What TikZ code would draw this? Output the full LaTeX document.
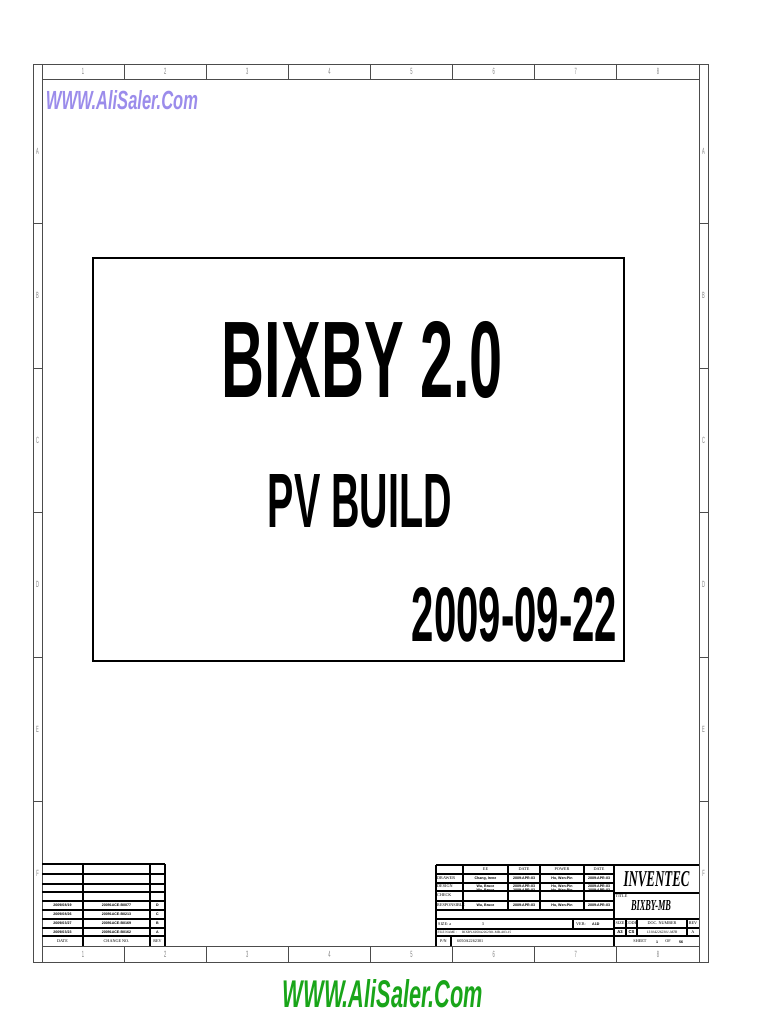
\documentclass[tikz,border=0pt]{standalone}
\usepackage{fontspec}
\setmainfont{Liberation Serif}
\newfontfamily\sansf{Liberation Sans}
\usepackage{graphicx}
\definecolor{framec}{gray}{0.3}
\definecolor{labc}{gray}{0.5}
\definecolor{wmpurple}{RGB}{155,140,235}
\definecolor{wmgreen}{RGB}{25,165,25}
\newcommand\fitbox[3]{\resizebox{#1pt}{#2pt}{#3}}
\newcommand\bordl[1]{\scalebox{0.45}[1]{\sansf\fontsize{9}{9}\selectfont #1}}
\newcommand\tbsz{\fontsize{4.2}{4.5}\selectfont}
\newcommand\tvsz{\fontsize{3.6}{4}\selectfont}
\newcommand\tssz{\fontsize{3.3}{3.6}\selectfont}
\begin{document}
\begin{tikzpicture}[x=1pt,y=-1pt,
  frm/.style={draw=framec,line width=0.9pt},
  tick/.style={draw=framec,line width=0.9pt},
  lbl/.style={inner sep=0pt,text=labc},
  tbl/.style={draw=black,line width=1.1pt},
  tt/.style={inner sep=0pt,font=\tbsz},
  tv/.style={inner sep=0pt,font=\sansf\bfseries\tvsz},
  big/.style={inner sep=0pt}]
\useasboundingbox (0,0) rectangle (768,1024);
\fill[white] (0,0) rectangle (768,1024);
% ---------- frame ----------
\draw[frm] (33,64) rectangle (708,962);
\draw[frm] (42,64) -- (42,962);
\draw[frm] (699,64) -- (699,962);
\draw[frm] (42,79) -- (699,79);
\draw[frm] (42,946) -- (699,946);
\foreach \k in {1,...,7}{
  \draw[tick] ({42+82.125*\k},64) -- ({42+82.125*\k},79);
  \draw[tick] ({42+82.125*\k},946) -- ({42+82.125*\k},962);
}
\foreach \k in {1,...,5}{
  \draw[tick] (33,{79+144.5*\k}) -- (42,{79+144.5*\k});
  \draw[tick] (699,{79+144.5*\k}) -- (708,{79+144.5*\k});
}
\foreach \n in {1,...,8}{
  \node[lbl] (top\n) at ({42+82.125*(\n-0.5)},71.5) {\bordl{\n}};
  \node[lbl] (bot\n) at ({42+82.125*(\n-0.5)},954) {\bordl{\n}};
}
\foreach \L [count=\i] in {A,B,C,D,E,F}{
  \node[lbl] (lft\L) at (37.5,{79+144.5*(\i-0.5)}) {\bordl{\L}};
  \node[lbl] (rgt\L) at (703.5,{79+144.5*(\i-0.5)}) {\bordl{\L}};
}
% ---------- watermarks ----------
\node[big,text=wmpurple] (wmtop) at (122,100.5) {\fitbox{152}{19}{\sansf\bfseries\itshape WWW.AliSaler.Com}};
\node[big,text=wmgreen] (wmbot) at (383,994) {\fitbox{200}{28}{\sansf\bfseries\itshape WWW.AliSaler.Com}};
% ---------- main box ----------
\draw[black,line width=1.4pt] (93,258) rectangle (624,661);
\draw[black,line width=2pt] (93,258) -- (624,258) -- (624,661) -- (93,661);
\node[big] (title) at (362.5,360) {\fitbox{281}{76}{\sansf\bfseries BIXBY 2.0}};
\node[big] (build) at (360,501.5) {\fitbox{184}{53}{\sansf\bfseries PV BUILD}};
\node[big] (date) at (514.5,615) {\fitbox{205}{54}{\sansf\bfseries 2009-09-22}};
% ---------- revision table ----------
\foreach \y in {864,874,884,892,901,910,919,928,936}{
  \draw[tbl] (42,\y) -- (165,\y);
}
\draw[tbl] (83,864) -- (83,946);
\draw[tbl] (150,864) -- (150,946);
\draw[tbl] (165,864) -- (165,946);
\node[tv] (r1d) at (62.5,905.5) {2009/08/19};
\node[tv] (r1c) at (116.5,905.5) {20091ACE-B0077};
\node[tv] (r1r) at (157.5,905.5) {D};
\node[tv] (r2d) at (62.5,914.5) {2009/08/26};
\node[tv] (r2c) at (116.5,914.5) {20091ACE-B0213};
\node[tv] (r2r) at (157.5,914.5) {C};
\node[tv] (r3d) at (62.5,923.5) {2009/03/27};
\node[tv] (r3c) at (116.5,923.5) {20091ACE-B0169};
\node[tv] (r3r) at (157.5,923.5) {B};
\node[tv] (r4d) at (62.5,932) {2009/03/23};
\node[tv] (r4c) at (116.5,932) {20091ACE-B0162};
\node[tv] (r4r) at (157.5,932) {A};
\node[tt] (rhd) at (62.5,941) {DATE};
\node[tt] (rhc) at (116.5,941) {CHANGE NO.};
\node[tt] (rhr) at (157.5,941) {REV};
% ---------- title block ----------
\draw[tbl] (436,865) -- (699,865);
\draw[tbl] (436,865) -- (436,946);
\foreach \y in {874,883,891,901,910}{ \draw[tbl] (436,\y) -- (614,\y); }
\draw[tbl] (436,919) -- (699,919);
\draw[tbl] (436,929) -- (614,929);
\draw[tbl] (436,936) -- (699,936);
\draw[tbl] (614,893) -- (699,893);
\draw[tbl] (614,928) -- (699,928);
\foreach \x in {463,508,540,584}{ \draw[tbl] (\x,865) -- (\x,910); }
\draw[tbl] (614,865) -- (614,946);
\draw[tbl] (573,919) -- (573,929);
\draw[tbl] (451,936) -- (451,946);
\foreach \x in {626,637,687}{ \draw[tbl] (\x,919) -- (\x,936); }
% header
\node[tt] (hEE) at (485.5,869.5) {EE};
\node[tt] (hD1) at (524,869.5) {DATE};
\node[tt] (hPW) at (562,869.5) {POWER};
\node[tt] (hD2) at (599,869.5) {DATE};
\node[tt,anchor=west] (lDR) at (437,878) {DRAWER};
\node[tt,anchor=west] (lDE) at (437,886.5) {DESIGN};
\node[tt,anchor=west] (lCH) at (437,895.5) {CHECK};
\node[tt,anchor=west] (lRE) at (437,905) {RESPONSIBLE};
\foreach \y/\ee [count=\i] in {878.5/{Chang, Irene},886.5/{Wu, Bruce},890.5/{Wu, Bruce},905.5/{Wu, Bruce}}{
  \node[tv] (ee\i) at (485.5,\y) {\ee};
  \node[tv] (da\i) at (524,\y) {2009-APR-03};
  \node[tv] (pw\i) at (562,\y) {Ho, Wen-Pin};
  \node[tv] (db\i) at (599,\y) {2009-APR-03};
}
\node[big] (inv) at (656.5,879) {\fitbox{66}{15}{\bfseries\itshape INVENTEC}};
\node[tt,anchor=north west] (ttl) at (615.5,895) {TITLE};
\node[big] (bmb) at (651,906) {\fitbox{40}{10}{\bfseries\itshape BIXBY-MB}};
\node[tt,anchor=west] (sz) at (438,924) {SIZE: a};
\node[tt] (sz3) at (483,924) {3};
\node[tt,anchor=west] (ver) at (576,924) {VER:};
\node[tv,anchor=west] (verv) at (592,924.5) {A1D};
\node[tt,anchor=west,font=\tssz] (fn) at (437.5,932.5) {FILE NAME :};
\node[tt,anchor=west,font=\tssz] (fnv) at (462,932.5) {BIXBY-6050A2262301-MB-A03-15};
\node[tt] (pn) at (443.5,941) {P/N};
\node[tt,anchor=west] (pnv) at (457,941) {6050A2262301};
\node[tt] (hsz) at (620,923.5) {SIZE};
\node[tt] (hcd) at (631.5,923.5) {CODE};
\node[tt] (hdn) at (662,923.5) {DOC. NUMBER};
\node[tt] (hrv) at (693,923.5) {REV};
\node[tv,font=\sansf\bfseries\tbsz] (vsz) at (620,932) {A3};
\node[tv,font=\sansf\bfseries\tbsz] (vcd) at (631.5,932) {CS};
\node[tt,font=\itshape\tvsz] (vdn) at (662,932) {1310A2262301-MTR};
\node[tt] (vrv) at (693,932) {A};
\node[tt] (sh) at (640,941) {SHEET};
\node[tv] (sh1) at (657,942) {1};
\node[tt] (shof) at (668,941) {OF};
\node[tv] (sh56) at (681,942) {56};
\end{tikzpicture}
\end{document}
